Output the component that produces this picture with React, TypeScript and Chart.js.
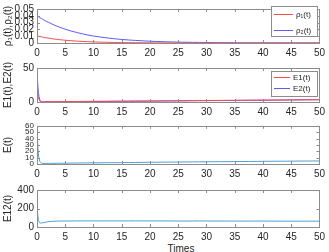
import React, { useEffect, useRef } from "react";
import { Chart, registerables } from "chart.js";

Chart.register(...registerables);

// ---- data ----
const times = [0, 0.1, 0.25, 0.5, 0.75, 1, 1.5, 2, 3, 4, 5, 6, 8, 10, 12, 15, 20, 25, 30, 35, 40, 45, 50];
const rho1 = [0.0105, 0.0103, 0.0100, 0.0096, 0.0091, 0.0087, 0.0079, 0.0072, 0.0059, 0.0049, 0.0041, 0.0034, 0.0023, 0.0016, 0.0011, 0.0006, 0.0002, 0.0001, 0.00004, 0.00002, 0.00001, 0, 0];
const rho2 = [0.0400, 0.0395, 0.0387, 0.0374, 0.0361, 0.0349, 0.0326, 0.0305, 0.0266, 0.0232, 0.0203, 0.0177, 0.0135, 0.0103, 0.0079, 0.0052, 0.0026, 0.0013, 0.0007, 0.0003, 0.0002, 0.0001, 0.00005];
const e1 = [18, 12, 6, 1.5, 0.6, 0.4, 0.4, 0.45, 0.5, 0.6, 0.7, 0.75, 0.85, 1.0, 1.1, 1.3, 1.6, 1.9, 2.2, 2.5, 2.8, 3.1, 3.4];
const e2 = [50, 32, 14, 3, 0.8, 0.3, 0.25, 0.3, 0.35, 0.4, 0.45, 0.5, 0.6, 0.7, 0.8, 1.0, 1.3, 1.6, 2.0, 2.3, 2.7, 3.0, 3.4];
const eTotal = [55, 35, 16, 4, 1.5, 1.0, 0.9, 1.0, 1.1, 1.2, 1.3, 1.4, 1.6, 1.8, 2.0, 2.2, 2.7, 3.1, 3.5, 3.8, 4.2, 4.5, 4.8];
const e12 = [210, 150, 80, 45, 42, 45, 52, 58, 62, 64, 65, 65, 66, 66, 66, 66, 66, 65, 65, 64, 64, 63, 63];

const xTickValues = [0, 5, 10, 15, 20, 25, 30, 35, 40, 45, 50];

const FONT = "'Liberation Sans', Arial, Helvetica, sans-serif";
const TEXT = "#262626";
const AXIS = "#8c8c8c";

const pts = (ys: number[]) => times.map((t, i) => ({ x: t, y: ys[i] }));

type LegendItem = { label: string; color: string };

const boxPlugin = {
  id: "matlabBox",
  afterDatasetsDraw(chart: any) {
    const { ctx, chartArea: a, scales } = chart;
    ctx.save();
    ctx.strokeStyle = AXIS;
    ctx.lineWidth = 1;
    ctx.strokeRect(Math.round(a.left) + 0.5, Math.round(a.top) + 0.5, Math.round(a.right - a.left), Math.round(a.bottom - a.top));
    const tl = 3;
    ctx.beginPath();
    scales.x.ticks.forEach((tk: any) => {
      const px = Math.round(scales.x.getPixelForValue(tk.value)) + 0.5;
      ctx.moveTo(px, a.bottom);
      ctx.lineTo(px, a.bottom - tl);
      ctx.moveTo(px, a.top);
      ctx.lineTo(px, a.top + tl);
    });
    scales.y.ticks.forEach((tk: any) => {
      const py = Math.round(scales.y.getPixelForValue(tk.value)) + 0.5;
      ctx.moveTo(a.left, py);
      ctx.lineTo(a.left + tl, py);
      ctx.moveTo(a.right, py);
      ctx.lineTo(a.right - tl, py);
    });
    ctx.stroke();
    ctx.restore();
  },
  afterDraw(chart: any) {
    const opts = chart.options.plugins.matlabBox;
    if (!opts || !opts.items) return;
    const { ctx } = chart;
    const b = opts.box;
    ctx.save();
    ctx.fillStyle = "#ffffff";
    ctx.fillRect(b.x, b.y, b.w, b.h);
    ctx.strokeStyle = AXIS;
    ctx.lineWidth = 1;
    ctx.strokeRect(b.x + 0.5, b.y + 0.5, b.w, b.h);
    opts.items.forEach((it: LegendItem, i: number) => {
      const y = b.y + opts.firstY + i * opts.gap;
      ctx.strokeStyle = it.color;
      ctx.beginPath();
      ctx.moveTo(b.x + 3, y + 0.5);
      ctx.lineTo(b.x + 3 + opts.lineLen, y + 0.5);
      ctx.stroke();
      ctx.fillStyle = TEXT;
      ctx.font = `${opts.fontSize}px ${FONT}`;
      ctx.textBaseline = "middle";
      ctx.textAlign = "left";
      ctx.fillText(it.label, b.x + 3 + opts.lineLen + 3, y + 0.5);
    });
    ctx.restore();
  },
};

type PanelProps = {
  top: number;
  height: number;
  padTop: number;
  datasets: { label: string; data: number[]; color: string }[];
  yMax: number;
  yStep: number;
  yTitle: string;
  yTickSize: number;
  legend?: any;
};

function Panel(p: PanelProps) {
  const ref = useRef<HTMLCanvasElement>(null);
  useEffect(() => {
    const chart = new Chart(ref.current as HTMLCanvasElement, {
      type: "line",
      data: {
        datasets: p.datasets.map((d) => ({
          label: d.label,
          data: pts(d.data),
          borderColor: d.color,
          borderWidth: 1,
          pointRadius: 0,
          tension: 0.3,
          fill: false,
        })),
      },
      options: {
        responsive: false,
        animation: false,
        maintainAspectRatio: false,
        layout: { padding: { top: p.padTop, right: 5, left: 0, bottom: 0 } },
        plugins: {
          legend: { display: false },
          tooltip: { enabled: false },
          matlabBox: p.legend || {},
        } as any,
        scales: {
          x: {
            type: "linear",
            min: 0,
            max: 50,
            afterBuildTicks: (s: any) => {
              s.ticks = xTickValues.map((v) => ({ value: v }));
            },
            afterFit: (s: any) => {
              s.height = 16;
            },
            grid: { display: false, drawTicks: false, tickLength: 0 },
            border: { display: false },
            ticks: { font: { family: FONT, size: 10 }, color: TEXT, padding: 4, maxRotation: 0, autoSkip: false },
          },
          y: {
            type: "linear",
            min: 0,
            max: p.yMax,
            afterFit: (s: any) => {
              s.width = 37;
            },
            grid: { display: false, drawTicks: false, tickLength: 0 },
            border: { display: false },
            ticks: { stepSize: p.yStep, font: { family: FONT, size: p.yTickSize }, color: TEXT, padding: 3, autoSkip: false },
            title: { display: true, text: p.yTitle, font: { family: FONT, size: 10 }, color: TEXT, padding: { top: 2, bottom: 0 } },
          },
        },
      },
      plugins: [boxPlugin],
    } as any);
    return () => chart.destroy();
  }, []);
  return (
    <canvas
      ref={ref}
      width={329}
      height={p.height}
      style={{ position: "absolute", left: 0, top: p.top, width: 329, height: p.height }}
    />
  );
}

export default function App() {
  return (
    <div style={{ position: "absolute", left: 0, top: 0, width: 329, height: 252, background: "#fff", overflow: "hidden" }}>
      <Panel
        top={0}
        height={59}
        padTop={5}
        yMax={0.05}
        yStep={0.01}
        yTickSize={10}
        yTitle="ρ₁(t),ρ₂(t)"
        datasets={[
          { label: "ρ₁(t)", data: rho1, color: "#ff4a4a" },
          { label: "ρ₂(t)", data: rho2, color: "#5a5aff" },
        ]}
        legend={{
          box: { x: 271, y: 6, w: 46, h: 30 },
          firstY: 8,
          gap: 16,
          lineLen: 19,
          fontSize: 8,
          items: [
            { label: "ρ₁(t)", color: "#ff4a4a" },
            { label: "ρ₂(t)", color: "#5a5aff" },
          ],
        }}
      />
      <Panel
        top={59}
        height={59}
        padTop={6}
        yMax={50}
        yStep={50}
        yTickSize={10}
        yTitle="E1(t),E2(t)"
        datasets={[
          { label: "E1(t)", data: e1, color: "#ff4a4a" },
          { label: "E2(t)", data: e2, color: "#5a5aff" },
        ]}
        legend={{
          box: { x: 271, y: 12, w: 46, h: 25 },
          firstY: 6,
          gap: 11,
          lineLen: 16,
          fontSize: 8,
          items: [
            { label: "E1(t)", color: "#ff4a4a" },
            { label: "E2(t)", color: "#5a5aff" },
          ],
        }}
      />
      <Panel
        top={118}
        height={62}
        padTop={6}
        yMax={60}
        yStep={10}
        yTickSize={8}
        yTitle="E(t)"
        datasets={[{ label: "E(t)", data: eTotal, color: "#4d9fd6" }]}
      />
      <Panel
        top={181}
        height={62}
        padTop={6}
        yMax={400}
        yStep={200}
        yTickSize={10}
        yTitle="E12(t)"
        datasets={[{ label: "E12(t)", data: e12, color: "#4d9fd6" }]}
      />
      <div
        style={{
          position: "absolute",
          left: 0,
          width: 362,
          top: 243,
          textAlign: "center",
          fontFamily: FONT,
          fontSize: 10,
          lineHeight: "12px",
          color: TEXT,
        }}
      >
        Times
      </div>
    </div>
  );
}
